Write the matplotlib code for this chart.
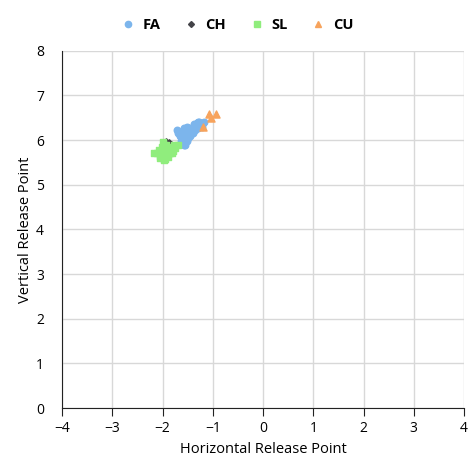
import matplotlib.pyplot as plt
from matplotlib.lines import Line2D

plt.rcParams['font.family'] = ['Open Sans', 'DejaVu Sans']

# release points
fa_x = [-1.72, -1.68, -1.65, -1.62, -1.60, -1.58, -1.55, -1.52, -1.50, -1.48,
        -1.46, -1.44, -1.42, -1.40, -1.38, -1.36, -1.34, -1.32, -1.30, -1.28,
        -1.26, -1.24, -1.22, -1.20, -1.18, -1.66, -1.63, -1.59, -1.56, -1.53,
        -1.50, -1.47, -1.43, -1.40, -1.36, -1.33, -1.30, -1.57, -1.61, -1.69,
        -1.52, -1.45, -1.38, -1.64]
fa_y = [6.22, 6.18, 6.12, 6.05, 5.95, 5.88, 5.90, 5.98, 6.05, 6.12,
        6.18, 6.22, 6.25, 6.28, 6.30, 6.33, 6.36, 6.38, 6.40, 6.41,
        6.39, 6.35, 6.30, 6.38, 6.40, 6.08, 5.99, 6.00, 6.10, 6.20,
        6.25, 6.28, 6.20, 6.15, 6.22, 6.30, 6.26, 6.26, 6.18, 6.15,
        6.30, 6.10, 6.35, 5.92]

ch_x = [-1.93, -1.88, -1.84, -1.79]
ch_y = [5.96, 5.93, 5.90, 5.80]

sl_x = [-2.18, -2.12, -2.05, -2.00, -1.95, -1.90, -1.85, -1.80, -1.75, -1.70,
        -2.08, -2.02, -1.97, -1.92, -1.87, -1.82, -1.78, -2.00, -1.95, -1.90,
        -1.98, -2.03, -1.88, -1.93, -2.06]
sl_y = [5.72, 5.70, 5.65, 5.60, 5.58, 5.62, 5.70, 5.75, 5.82, 5.88,
        5.78, 5.85, 5.90, 5.80, 5.85, 5.70, 5.90, 5.95, 5.75, 5.68,
        5.55, 5.62, 5.78, 5.88, 5.60]

cu_x = [-1.07, -1.04, -0.94, -1.19]
cu_y = [6.58, 6.49, 6.58, 6.30]

fig = plt.figure(figsize=(4.74, 4.74), dpi=100)
ax = fig.add_axes([0.131, 0.139, 0.848, 0.754])

ax.scatter(fa_x, fa_y, s=22, marker='o', color='#7cb5ec', zorder=3)
ax.scatter(ch_x, ch_y, s=14, marker='D', color='#434348', zorder=3)
ax.scatter(sl_x, sl_y, s=22, marker='s', color='#90ed7d', zorder=3)
ax.scatter(cu_x, cu_y, s=26, marker='^', color='#f7a35c', zorder=3)

ax.set_xlim(-4, 4)
ax.set_ylim(0, 8)
ax.set_xticks(range(-4, 5))
ax.set_yticks(range(0, 9))
ax.grid(True, color='#d8d8d8', linewidth=1)
ax.set_axisbelow(True)
for s in ['top', 'right']:
    ax.spines[s].set_visible(False)
ax.spines['left'].set_color('#222222')
ax.spines['bottom'].set_color('#222222')
ax.tick_params(axis='y', length=0, pad=13, labelsize=10)
ax.tick_params(axis='x', length=6, direction='out', labelsize=10, color='#222222')
ax.set_xlabel('Horizontal Release Point', fontsize=10.5, labelpad=4)
ax.set_ylabel('Vertical Release Point', fontsize=10.5, labelpad=2)

handles = [
    Line2D([], [], marker='o', color='#7cb5ec', linestyle='', markersize=4.5),
    Line2D([], [], marker='D', color='#434348', linestyle='', markersize=3),
    Line2D([], [], marker='s', color='#90ed7d', linestyle='', markersize=4.5),
    Line2D([], [], marker='^', color='#f7a35c', linestyle='', markersize=4.5),
]
leg = fig.legend(handles, ['FA', 'CH', 'SL', 'CU'], loc='upper center',
                 bbox_to_anchor=(0.5, 0.99), ncol=4, frameon=False,
                 handletextpad=0.5, columnspacing=1.6, handlelength=1,
                 prop={'weight': 'bold', 'size': 10.5})

fig.savefig('out.png', dpi=100)
